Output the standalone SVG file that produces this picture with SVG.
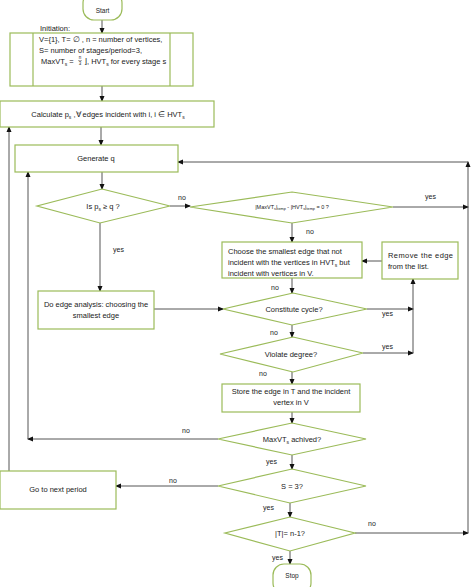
<svg xmlns="http://www.w3.org/2000/svg" width="474" height="587" viewBox="0 0 474 587">
<style>
.b{fill:#fff;stroke:#9bbb59;stroke-width:1.2}
.c{fill:none;stroke:#555;stroke-width:1}
.a{marker-end:url(#ah)}
text{font-family:"Liberation Sans",Arial,sans-serif;font-size:7.5px;fill:#1a1a1a}
.m{text-anchor:middle}
.s{font-size:5px}
.l{font-size:7px}
</style>
<defs>
<marker id="ah" markerWidth="6" markerHeight="6" refX="5" refY="3" orient="auto" markerUnits="userSpaceOnUse"><path d="M0,0.5 L6,3 L0,5.5 z" fill="#111"/></marker>
</defs>
<rect width="474" height="587" fill="#fff"/>

<g id="connectors">
<path class="c a" d="M102,20 V33"/>
<path class="c a" d="M102,86 V101"/>
<path class="c a" d="M101,127 V145"/>
<path class="c a" d="M102,172 V189"/>
<path class="c a" d="M170,206 H190"/>
<path class="c a" d="M393,207 H468"/>
<path class="c a" d="M355,533 H468"/>
<path class="c a" d="M468,533 V162"/>
<path class="c a" d="M468,162 H178"/>
<path class="c a" d="M292,223 V242"/>
<path class="c a" d="M382,261 H362"/>
<path class="c a" d="M292,278 V293"/>
<path class="c a" d="M100,223 V291"/>
<path class="c a" d="M154,309 H223"/>
<path class="c a" d="M367,309 H413"/>
<path class="c a" d="M363,353 H413"/>
<path class="c a" d="M413,353 V279"/>
<path class="c a" d="M292,325 V337"/>
<path class="c a" d="M292,372 V384"/>
<path class="c a" d="M292,412 V423"/>
<path class="c a" d="M218,439 H28"/>
<path class="c a" d="M28,439 V172"/>
<path class="c a" d="M292,455 V469"/>
<path class="c a" d="M218,486 H116"/>
<path class="c a" d="M9,471 V127"/>
<path class="c a" d="M290,503 V517"/>
<path class="c a" d="M290,551 V564"/>
<text class="l" x="178" y="200">no</text>
<text class="l" x="425" y="199">yes</text>
<text class="l" x="306" y="234">no</text>
<text class="l" x="113" y="252">yes</text>
<text class="l" x="271" y="290">no</text>
<text class="l" x="382" y="316">yes</text>
<text class="l" x="382" y="349">yes</text>
<text class="l" x="270" y="335">no</text>
<text class="l" x="259" y="376">no</text>
<text class="l" x="182" y="433">no</text>
<text class="l" x="266" y="464">yes</text>
<text class="l" x="169" y="483">no</text>
<text class="l" x="263" y="510">yes</text>
<text class="l" x="368" y="526">no</text>
<text class="l" x="272" y="560">yes</text>
</g>

<g id="start">
<rect class="b" x="83" y="-8" width="39" height="28" rx="11"/>
<text class="m" x="102.5" y="13" style="font-size:6.5px">Start</text>
</g>

<g id="init">
<text x="40" y="31">Initiation:</text>
<rect class="b" x="10" y="33" width="183" height="53"/>
<line class="b" x1="33" y1="33" x2="33" y2="86"/>
<line class="b" x1="170" y1="33" x2="170" y2="86"/>
<text x="39" y="42">V={1}, T= ∅ , n = number of vertices,</text>
<text x="39" y="53">S= number of stages/period=3,</text>
<text x="41" y="64">MaxVT<tspan class="s" dy="1.5">s</tspan><tspan dy="-1.5"> = </tspan></text>
<text class="m" x="80" y="59" style="font-size:4.5px">n</text>
<line x1="78" y1="60.5" x2="82" y2="60.5" stroke="#444" stroke-width="0.4"/>
<text class="m" x="80" y="65" style="font-size:4.5px">3</text>
<text x="84" y="64">⌋, HVT<tspan class="s" dy="1.5">s</tspan><tspan dy="-1.5"> for every stage s</tspan></text>
</g>

<g id="calc">
<rect class="b" x="0" y="101" width="214" height="26"/>
<text class="m" x="108" y="117">Calculate p<tspan class="s" dy="1.5">s</tspan><tspan dy="-1.5"> ,∀ edges incident with i, i ∈ HVT</tspan><tspan class="s" dy="1.5">s</tspan></text>
</g>

<g id="generate">
<rect class="b" x="15" y="145" width="163" height="27"/>
<text class="m" x="96" y="161">Generate q</text>
</g>

<g id="d1">
<polygon class="b" points="102,189 170,206 100,223 37,206"/>
<text class="m" x="103" y="209">Is p<tspan class="s" dy="1.5">s</tspan><tspan dy="-1.5"> ≥ q ?</tspan></text>
</g>

<g id="d2">
<polygon class="b" points="292,192 393,207 292,223 190,207"/>
<text class="m" x="292" y="209" style="font-size:5.5px">|MaxVT<tspan style="font-size:3.8px" dy="1">s</tspan><tspan dy="-1">|</tspan><tspan style="font-size:3.8px" dy="1">temp</tspan><tspan dy="-1"> - |HVT</tspan><tspan style="font-size:3.8px" dy="1">s</tspan><tspan dy="-1">|</tspan><tspan style="font-size:3.8px" dy="1">temp</tspan><tspan dy="-1"> = 0 ?</tspan></text>
</g>

<g id="choose">
<rect class="b" x="222" y="242" width="140" height="36"/>
<text x="228" y="254">Choose the smallest edge that not</text>
<text x="228" y="265">incident with the vertices in HVT<tspan class="s" dy="1.5">s</tspan><tspan dy="-1.5"> but</tspan></text>
<text x="228" y="276">incident with vertices in V.</text>
</g>

<g id="remove">
<rect class="b" x="382" y="242" width="76" height="37"/>
<text x="388" y="258" textLength="65" lengthAdjust="spacing">Remove the edge</text>
<text x="388" y="269">from the list.</text>
</g>

<g id="doedge">
<rect class="b" x="38" y="291" width="116" height="38"/>
<text class="m" x="96" y="307">Do edge analysis: choosing the</text>
<text class="m" x="96" y="318">smallest edge</text>
</g>

<g id="cycle">
<polygon class="b" points="293,293 367,309 292,325 223,309"/>
<text class="m" x="294" y="311.5">Constitute cycle?</text>
</g>

<g id="violate">
<polygon class="b" points="293,337 363,353 293,372 220,354"/>
<text class="m" x="291" y="357">Violate degree?</text>
</g>

<g id="store">
<rect class="b" x="222" y="384" width="138" height="28"/>
<text class="m" x="291" y="394">Store the edge in T and the incident</text>
<text class="m" x="291" y="405">vertex in V</text>
</g>

<g id="maxvt">
<polygon class="b" points="292,423 366,439 292,455 218,439"/>
<text class="m" x="292" y="442">MaxVT<tspan class="s" dy="1.5">s</tspan><tspan dy="-1.5"> achived?</tspan></text>
</g>

<g id="s3">
<polygon class="b" points="292,469 366,486 290,503 218,486"/>
<text class="m" x="292" y="489">S = 3?</text>
</g>

<g id="next">
<rect class="b" x="0" y="471" width="116" height="38"/>
<text class="m" x="58" y="492">Go to next period</text>
</g>

<g id="tn">
<polygon class="b" points="290,517 355,533 290,551 225,533"/>
<text class="m" x="290" y="536">|T|= n-1?</text>
</g>

<g id="stop">
<rect class="b" x="273" y="564" width="38" height="30" rx="11"/>
<text class="m" x="292" y="578" style="font-size:6.5px">Stop</text>
</g>
</svg>
